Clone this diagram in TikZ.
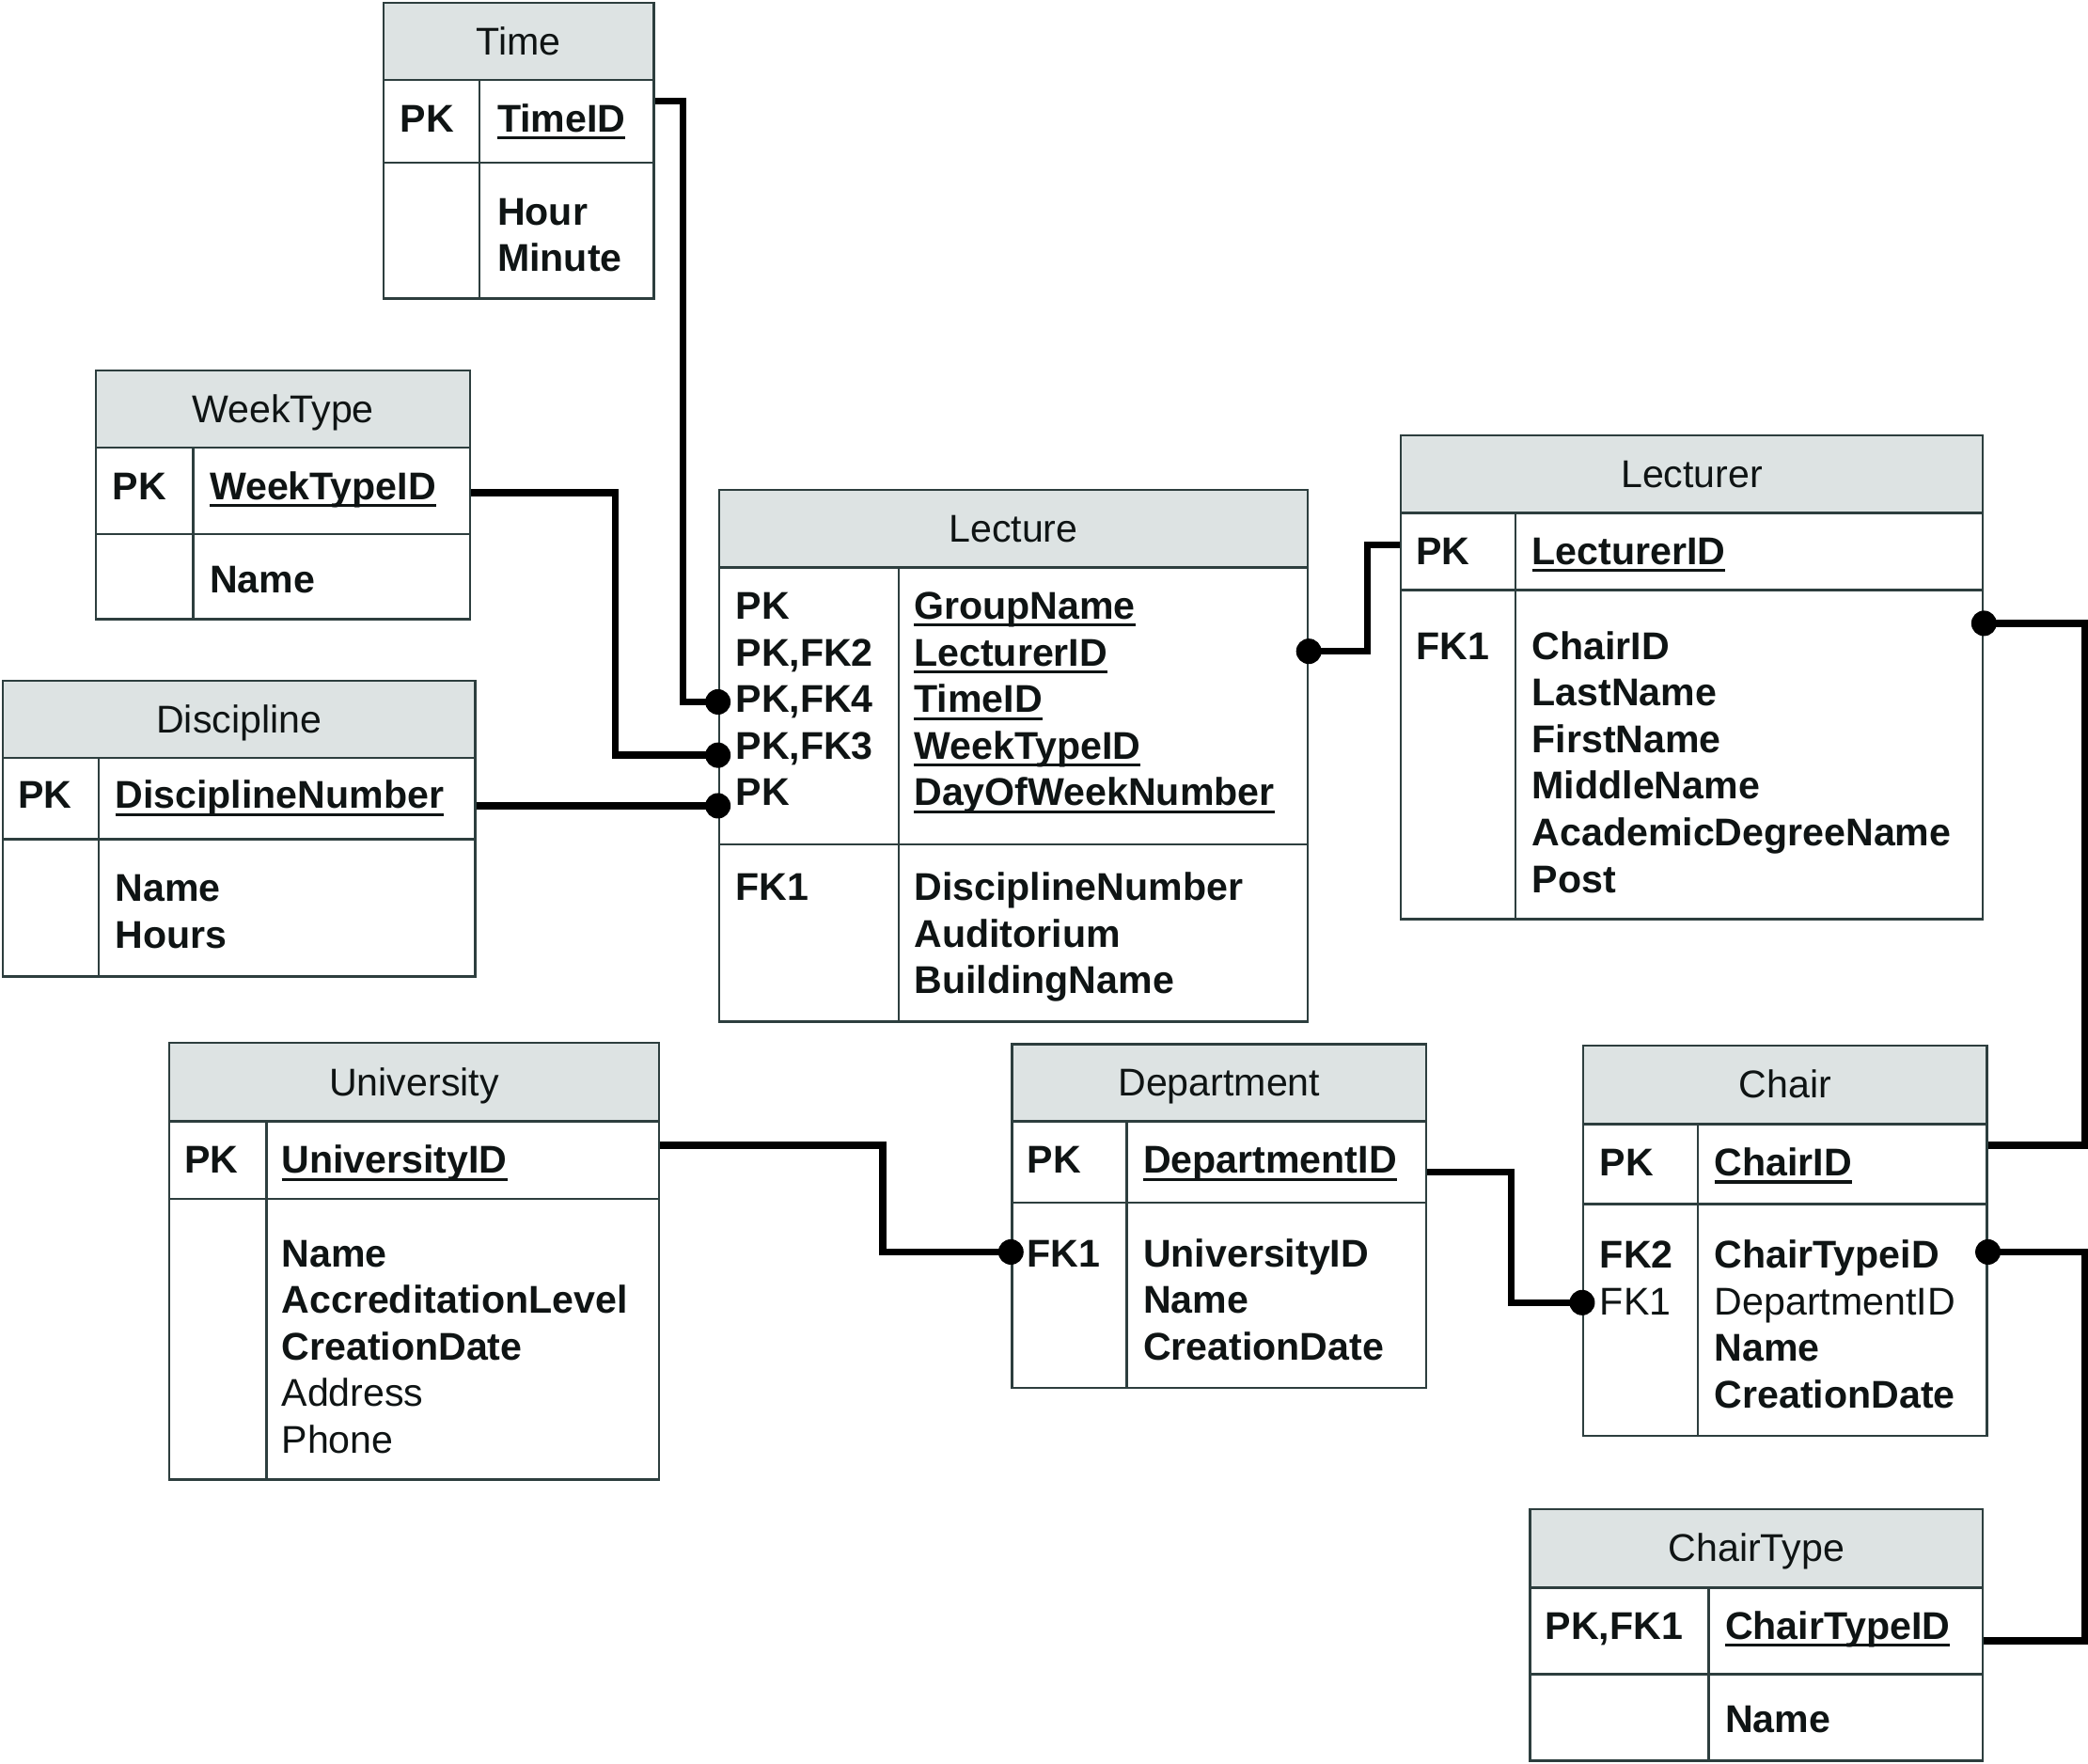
\documentclass[tikz,border=0pt]{standalone}
\usepackage{fontspec}
\setmainfont{Liberation Sans}
\usetikzlibrary{fit}
\definecolor{hdrc}{RGB}{221,227,227}
\definecolor{linec}{RGB}{45,62,62}
\definecolor{txtc}{RGB}{15,20,20}
\newcommand\ulx[1]{\setbox0\hbox{#1}\rlap{\rule[-0.19em]{\wd0}{0.075em}}\box0}
\newcommand\ertab[9]{%
  \coordinate (#1-nw) at (#2,#4);
  \coordinate (#1-se) at (#3,#7);
  \fill[hdrc] (#2,#4) rectangle (#3,#5);
  \draw[tline] (#2,#5) -- (#3,#5) (#2,#6) -- (#3,#6) (#8,#5) -- (#8,#7);
  \node[tbox, fit=(#1-nw)(#1-se)] (#1) {};
  \node[ttl] (#1-title) at ({(#2+#3)/2},{(#4+#5)/2+10}) {#9};
}
\begin{document}
\begin{tikzpicture}[x=0.014165cm, y=-0.014165cm,
  tline/.style={draw=linec, line width=0.7pt},
  tbox/.style={draw=linec, line width=0.7pt, inner sep=0pt},
  ttl/.style={anchor=base, inner sep=0pt, text=txtc, font=\fontsize{11.7}{14}\selectfont},
  fld/.style={anchor=base west, inner sep=0pt, text=txtc, font=\fontsize{11.7}{14}\selectfont\bfseries},
  fldr/.style={anchor=base west, inner sep=0pt, text=txtc, font=\fontsize{11.7}{14}\selectfont},
  conn/.style={draw=black, line width=2.1pt},
  dotc/.style={fill=black}]
\fill[white] (0,0) rectangle (1568,1324);
\useasboundingbox (0,0) rectangle (1568,1324);

% tables
\ertab{time}{288}{491}{2}{60}{122}{224}{360}{Time}
\ertab{weektype}{72}{353}{278}{336}{401}{465}{145}{WeekType}
\ertab{discipline}{2}{357}{511}{569}{630}{733}{74}{Discipline}
\ertab{lecture}{540}{982}{368}{426}{634}{767}{675}{Lecture}
\ertab{lecturer}{1052}{1489}{327}{385}{443}{690}{1138}{Lecturer}
\ertab{university}{127}{495}{783}{842}{900}{1111}{200}{University}
\ertab{department}{760}{1071}{784}{842}{903}{1042}{846}{Department}
\ertab{chair}{1189}{1492}{785}{844}{904}{1078}{1275}{Chair}
\ertab{chairtype}{1149}{1489}{1133}{1192}{1257}{1322}{1283}{ChairType}

% Time
\node[fld] (time-k1) at (300,99) {PK};
\node[fld] (time-f1) at (373,99) {\ulx{TimeID}};
\node[fld] (time-f2) at (373,169) {Hour};
\node[fld] (time-f3) at (373,204) {Minute};

% WeekType
\node[fld] (wt-k1) at (84,375) {PK};
\node[fld] (wt-f1) at (157,375) {\ulx{WeekTypeID}};
\node[fld] (wt-f2) at (157,445) {Name};

% Discipline
\node[fld] (di-k1) at (13,607) {PK};
\node[fld] (di-f1) at (86,607) {\ulx{DisciplineNumber}};
\node[fld] (di-f2) at (86,677) {Name};
\node[fld] (di-f3) at (86,712) {Hours};

% Lecture
\node[fld] (le-k1) at (552,465) {PK};
\node[fld] (le-k2) at (552,500) {PK,FK2};
\node[fld] (le-k3) at (552,535) {PK,FK4};
\node[fld] (le-k4) at (552,570) {PK,FK3};
\node[fld] (le-k5) at (552,605) {PK};
\node[fld] (le-k6) at (552,676) {FK1};
\node[fld] (le-f1) at (686,465) {\ulx{GroupName}};
\node[fld] (le-f2) at (686,500) {\ulx{LecturerID}};
\node[fld] (le-f3) at (686,535) {\ulx{TimeID}};
\node[fld] (le-f4) at (686,570) {\ulx{WeekTypeID}};
\node[fld] (le-f5) at (686,605) {\ulx{DayOfWeekNumber}};
\node[fld] (le-f6) at (686,676) {DisciplineNumber};
\node[fld] (le-f7) at (686,711) {Auditorium};
\node[fld] (le-f8) at (686,746) {BuildingName};

% Lecturer
\node[fld] (lr-k1) at (1063,424) {PK};
\node[fld] (lr-k2) at (1063,495) {FK1};
\node[fld] (lr-f1) at (1150,424) {\ulx{LecturerID}};
\node[fld] (lr-f2) at (1150,495) {ChairID};
\node[fld] (lr-f3) at (1150,530) {LastName};
\node[fld] (lr-f4) at (1150,565) {FirstName};
\node[fld] (lr-f5) at (1150,600) {MiddleName};
\node[fld] (lr-f6) at (1150,635) {AcademicDegreeName};
\node[fld] (lr-f7) at (1150,670) {Post};

% University
\node[fld] (un-k1) at (138,881) {PK};
\node[fld] (un-f1) at (211,881) {\ulx{UniversityID}};
\node[fld] (un-f2) at (211,951) {Name};
\node[fld] (un-f3) at (211,986) {AccreditationLevel};
\node[fld] (un-f4) at (211,1021) {CreationDate};
\node[fldr] (un-f5) at (211,1056) {Address};
\node[fldr] (un-f6) at (211,1091) {Phone};

% Department
\node[fld] (de-k1) at (771,881) {PK};
\node[fld] (de-k2) at (771,951) {FK1};
\node[fld] (de-f1) at (858,881) {\ulx{DepartmentID}};
\node[fld] (de-f2) at (858,951) {UniversityID};
\node[fld] (de-f3) at (858,986) {Name};
\node[fld] (de-f4) at (858,1021) {CreationDate};

% Chair
\node[fld] (ch-k1) at (1201,883) {PK};
\node[fld] (ch-k2) at (1201,952) {FK2};
\node[fldr] (ch-k3) at (1201,987) {FK1};
\node[fld] (ch-f1) at (1287,883) {\ulx{ChairID}};
\node[fld] (ch-f2) at (1287,952) {ChairTypeiD};
\node[fldr] (ch-f3) at (1287,987) {DepartmentID};
\node[fld] (ch-f4) at (1287,1022) {Name};
\node[fld] (ch-f5) at (1287,1057) {CreationDate};

% ChairType
\node[fld] (ct-k1) at (1160,1231) {PK,FK1};
\node[fld] (ct-f1) at (1295,1231) {\ulx{ChairTypeID}};
\node[fld] (ct-f2) at (1295,1301) {Name};

% connectors
\draw[conn] (time.east |- 0,76) -- ++(21,0) |- (lecture.west |- 0,527);
\fill[dotc] (lecture.west |- 0,527) circle[radius=0.135cm];
\draw[conn] (weektype.east |- 0,370) -- ++(108,0) |- (lecture.west |- 0,567);
\fill[dotc] (lecture.west |- 0,567) circle[radius=0.135cm];
\draw[conn] (discipline.east |- 0,605) -- (lecture.west |- 0,605);
\fill[dotc] (lecture.west |- 0,605) circle[radius=0.135cm];
\draw[conn] (lecture.east |- 0,489) -- ++(44,0) |- (lecturer.west |- 0,409);
\fill[dotc] (lecture.east |- 0,489) circle[radius=0.135cm];
\draw[conn] (lecturer.east |- 0,468) -- ++(76,0) |- (chair.east |- 0,860);
\fill[dotc] (lecturer.east |- 0,468) circle[radius=0.135cm];
\draw[conn] (university.east |- 0,860) -- ++(167,0) |- (department.west |- 0,940);
\fill[dotc] (department.west |- 0,940) circle[radius=0.135cm];
\draw[conn] (department.east |- 0,880) -- ++(63,0) |- (chair.west |- 0,978);
\fill[dotc] (chair.west |- 0,978) circle[radius=0.135cm];
\draw[conn] (chair.east |- 0,940) -- ++(73,0) |- (chairtype.east |- 0,1232);
\fill[dotc] (chair.east |- 0,940) circle[radius=0.135cm];
\end{tikzpicture}
\end{document}
